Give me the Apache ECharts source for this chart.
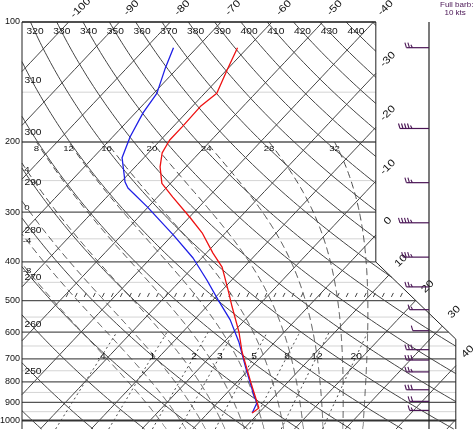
<!DOCTYPE html>
<html>
<head>
<meta charset="utf-8">
<script src="https://cdn.jsdelivr.net/npm/echarts@6/dist/echarts.min.js"></script>
<style>
html, body { margin: 0; padding: 0; background: #fff; }
#chart { width: 474px; height: 430px; }
</style>
</head>
<body>
<div id="chart"></div>
<script>
// ---- sounding ----
var tempPres = [116, 132, 151, 163, 183, 198, 213, 231, 254, 275, 309, 338, 380, 412, 470, 519, 600, 673, 801, 898, 930, 957];
var tempC    = [-62.0, -59.9, -57.6, -58.4, -58.2, -58.2, -57.3, -55.1, -51.7, -47.0, -39.9, -34.6, -28.7, -24.3, -18.9, -14.9, -8.9, -4.6, 2.7, 7.6, 9.1, 8.7];
var dewPres  = [116, 130, 151, 169, 194, 219, 252, 261, 291, 342, 391, 444, 498, 559, 635, 738, 863, 904, 957];
var dewC     = [-74.6, -72.5, -69.4, -68.5, -66.6, -64.3, -59.2, -57.5, -50.2, -39.9, -31.7, -24.9, -19.0, -12.9, -7.1, -0.9, 5.7, 7.8, 8.7];

// wind (kts, deg)
var windPres = [116, 185, 253, 319, 389, 462, 527, 595, 664, 705, 755, 837, 895, 943];
var windSpd  = [25, 45, 25, 45, 35, 25, 15, 10, 30, 30, 25, 30, 20, 15];
var windDir  = [270, 270, 270, 270, 270, 270, 270, 270, 270, 270, 270, 270, 270, 270];

// ---- background ----
var isobarMajor = [100, 200, 300, 400, 500, 600, 700, 800, 900, 1000];
var isobarMinor = [150, 250, 350, 450, 550, 650, 750, 850, 950];
var isotherms = [-100, -90, -80, -70, -60, -50, -40, -30, -20, -10, 0, 10, 20, 30, 40, 50];
var isothermLabels = [-100, -90, -80, -70, -60, -50, -40, -30, -20, -10, 0, 10, 20, 30, 40];
var dryTheta = [240, 250, 260, 270, 280, 290, 300, 310, 320, 330, 340, 350, 360, 370, 380, 390, 400, 410, 420, 430, 440, 450];
var dryTopLabels = [320, 330, 340, 350, 360, 370, 380, 390, 400, 410, 420, 430, 440];
var dryLeftLabels = [250, 260, 270, 280, 290, 300, 310];
var moistThw = [-8, -4, 0, 4, 8, 12, 16, 20, 24, 28, 32];
var mixRatio = [0.4, 1, 2, 3, 5, 8, 12, 20];
var mixLabels = ['.4', '1', '2', '3', '5', '8', '12', '20'];

var P_BOT = 1050, P_TOP = 100;
var XL = -19, XR = 27.1, XMID = 18.6, YLO = 9.0, YHI = 17.53;

function sy(p) { return 132.182 - 44.061 * Math.log10(p); }
function yp(y) { return Math.pow(10, (132.182 - y) / 44.061); }
function sx(t, p) { return 0.54 * t + 0.90692 * sy(p); }
function xRightAt(y) {
    if (y <= YLO) return XR;
    if (y >= YHI) return XMID;
    return XR - (y - YLO) * (XR - XMID) / (YHI - YLO);
}
function isIn(x, y) {
    return x >= XL - 1e-9 && x <= xRightAt(y) + 1e-9 && y >= sy(P_BOT) - 1e-9 && y <= sy(P_TOP) + 1e-9;
}
function logSteps(p0, p1, n) {
    var out = [];
    for (var i = 0; i <= n; i++) out.push(p0 * Math.pow(p1 / p0, i / n));
    return out;
}
// clip a curve (skew units) to the diagram outline, returns segments in [x, p]
function clip(pts) {
    var segs = [], cur = null;
    for (var i = 0; i < pts.length; i++) {
        var a = pts[i], ina = isIn(a[0], a[1]);
        if (i > 0) {
            var b = pts[i - 1], inb = isIn(b[0], b[1]);
            if (ina !== inb) {
                var lo = 0, hi = 1;
                for (var k = 0; k < 30; k++) {
                    var m = (lo + hi) / 2;
                    if (isIn(b[0] + (a[0] - b[0]) * m, b[1] + (a[1] - b[1]) * m) === inb) lo = m; else hi = m;
                }
                var c = [b[0] + (a[0] - b[0]) * lo, b[1] + (a[1] - b[1]) * lo];
                if (inb) { cur.push(c); segs.push(cur); cur = null; }
                else cur = [c];
            }
        }
        if (ina) { if (!cur) cur = []; cur.push(a); }
    }
    if (cur && cur.length > 1) segs.push(cur);
    return segs.map(function (s) { return s.map(function (q) { return [q[0], yp(q[1])]; }); });
}
function curveOf(fn, p0, p1, n) {
    return logSteps(p0, p1, n).map(function (p) { return [sx(fn(p), p), sy(p)]; });
}
function esat(tc) { return 6.112 * Math.exp(17.67 * tc / (tc + 243.5)); }
function dewFromE(e) { var l = Math.log(e / 6.112); return 243.5 * l / (17.67 - l); }
function moistRate(T, p) {
    var es = esat(T - 273.15), rs = 0.622 * es / (p - es);
    return (287.04 * T + 2.501e6 * rs) / (1005.7 + 2.501e6 * 2.501e6 * rs * 0.622 / (287.04 * T * T)) / p;
}
function moistProfile(thw, pEnd) {
    var out = [[1000, thw]], T = thw + 273.15, p = 1000, h = (pEnd - 1000) / 400;
    for (var i = 0; i < 400; i++) {
        var k1 = moistRate(T, p), k2 = moistRate(T + h * k1 / 2, p + h / 2);
        var k3 = moistRate(T + h * k2 / 2, p + h / 2), k4 = moistRate(T + h * k3, p + h);
        T += h * (k1 + 2 * k2 + 2 * k3 + k4) / 6; p += h;
        out.push([p, T - 273.15]);
    }
    return out;
}

var lines = [], labels = [];
var GRID_C = '#444';
var FONT = 'Liberation Sans, Arial, sans-serif';

isobarMinor.forEach(function (p) {
    lines.push({ pts: clip([[XL, sy(p)], [XR, sy(p)]]), color: '#d4d4d4', width: 1 });
});
isobarMajor.forEach(function (p) {
    lines.push({ pts: clip([[XL, sy(p)], [XR, sy(p)]]), color: p === 1000 ? '#333' : '#555', width: p === 1000 ? 2 : 1.3 });
    labels.push({ x: XL, p: p, dx: -2, dy: 0, text: String(p), align: 'right', size: 9 });
});

isotherms.forEach(function (t) {
    var segs = clip(curveOf(function () { return t; }, P_BOT, P_TOP, 60));
    segs.forEach(function (s) { lines.push({ pts: [s], color: GRID_C, width: 1 }); });
    if (isothermLabels.indexOf(t) >= 0 && segs.length) {
        var last = segs[segs.length - 1], end = last[last.length - 1];
        labels.push({ x: end[0], p: end[1], dx: 12, dy: -14, text: String(t), rot: Math.PI / 4, size: 10, sc: 1.2 });
    }
});

function dryT(theta) { return function (p) { return theta * Math.pow(p / 1000, 0.286) - 273.15; }; }
dryTheta.forEach(function (th) {
    clip(curveOf(dryT(th), P_BOT, P_TOP, 120)).forEach(function (s) { lines.push({ pts: [s], color: GRID_C, width: 1 }); });
});
dryTopLabels.forEach(function (th) {
    labels.push({ x: sx(dryT(th)(106), 106), p: 106, dx: 0, dy: 0, text: String(th), size: 8.5, sc: 1.2 });
});
var xLeftLab = XL + 1.17;
dryLeftLabels.forEach(function (th) {
    var lo = 100, hi = 1050, f = dryT(th);
    for (var k = 0; k < 40; k++) {
        var m = Math.sqrt(lo * hi);
        if (sx(f(m), m) > xLeftLab) hi = m; else lo = m;
    }
    labels.push({ x: xLeftLab, p: lo, dx: 0, dy: -2, text: String(th), size: 8.5, sc: 1.2 });
});

moistThw.forEach(function (thw) {
    var up = moistProfile(thw, 200), down = moistProfile(thw, P_BOT).reverse();
    var prof = down.concat(up.slice(1));
    var pts = prof.map(function (d) { return [sx(d[1], d[0]), sy(d[0])]; });
    var segs = clip(pts);
    segs.forEach(function (s) { lines.push({ pts: [s], color: GRID_C, width: 1, dash: [7, 4] }); });
    var last = segs[segs.length - 1], end = last[last.length - 1];
    if (end[1] > 205) {
        labels.push({ x: end[0], p: end[1], dx: 5, dy: 7, text: String(thw), size: 8, sc: 1.2 });
    } else {
        labels.push({ x: end[0], p: end[1], dx: 0, dy: 7, text: String(thw), size: 8, sc: 1.2 });
    }
});

mixRatio.forEach(function (w, i) {
    var f = function (p) { return dewFromE(w * p / (622 + w)); };
    clip(curveOf(f, P_BOT, 600, 40)).forEach(function (s) { lines.push({ pts: [s], color: GRID_C, width: 1, dash: [2, 3] }); });
    labels.push({ x: sx(f(690), 690), p: 690, dx: 0, dy: 0, text: mixLabels[i], size: 8.5, sc: 1.2 });
});

// short tick row above 500 hPa
var tickP = 484, ticks = [];
for (var tx = -14.2; tx < xRightAt(sy(tickP)) - 0.5; tx += 0.96) ticks.push(tx);

// outline
lines.push({ pts: [[[XL, P_BOT], [XL, P_TOP], [XMID, P_TOP], [XMID, yp(YHI)], [XR, yp(YLO)], [XR, P_BOT]]], color: '#222', width: 1 });

var tempData = tempPres.map(function (p, i) { return [sx(tempC[i], p), p]; });
var dewData = dewPres.map(function (p, i) { return [sx(dewC[i], p), p]; });

var XSTAFF = XL + 407 / 9.41;
var BARB_C = '#4a1555';

var myChart = echarts.init(document.getElementById('chart'));
var option = {
    animation: false,
    grid: { left: 22, top: 22, width: 433.8, height: 407 },
    xAxis: { type: 'value', min: XL, max: XR, show: false },
    yAxis: { type: 'log', logBase: 10, min: P_TOP, max: P_BOT, inverse: true, show: false },
    graphic: [
        { type: 'text', left: 440, top: 1, style: { text: 'Full barb:\n  10 kts', fill: BARB_C, font: '8px ' + FONT, lineHeight: 8 } }
    ],
    series: [
        {
            type: 'custom',
            silent: true,
            z: 1,
            data: lines.map(function (l, i) { return [l.pts[0][0][0], l.pts[0][0][1], i]; }),
            encode: { x: 0, y: 1 },
            renderItem: function (params, api) {
                var l = lines[params.dataIndex];
                return {
                    type: 'group',
                    children: l.pts.map(function (seg) {
                        return {
                            type: 'polyline',
                            shape: { points: seg.map(function (d) { return api.coord(d); }) },
                            style: { stroke: l.color, lineWidth: l.width, fill: null, lineDash: l.dash || null }
                        };
                    })
                };
            }
        },
        {
            type: 'custom',
            silent: true,
            z: 1,
            data: ticks.map(function (x) { return [x, tickP]; }),
            encode: { x: 0, y: 1 },
            renderItem: function (params, api) {
                var c = api.coord([api.value(0), api.value(1)]);
                return {
                    type: 'line',
                    shape: { x1: c[0] - 1, y1: c[1] + 2, x2: c[0] + 1, y2: c[1] - 2 },
                    style: { stroke: GRID_C, lineWidth: 1 }
                };
            }
        },
        {
            name: 'Dew point',
            type: 'line',
            data: dewData,
            symbol: 'none',
            z: 3,
            lineStyle: { color: '#1f1fe6', width: 1.3 }
        },
        {
            name: 'Temperature',
            type: 'line',
            data: tempData,
            symbol: 'none',
            z: 4,
            lineStyle: { color: '#ee1111', width: 1.3 }
        },
        {
            type: 'custom',
            silent: true,
            z: 5,
            data: labels.map(function (l, i) { return [l.x, l.p, i]; }),
            encode: { x: 0, y: 1 },
            renderItem: function (params, api) {
                var l = labels[params.dataIndex];
                var c = api.coord([l.x, l.p]);
                return {
                    type: 'text',
                    x: c[0] + l.dx,
                    y: c[1] + l.dy,
                    rotation: l.rot || 0,
                    scaleX: l.sc || 1,
                    style: {
                        text: l.text,
                        fill: '#111',
                        font: l.size + 'px ' + FONT,
                        align: l.align || 'center',
                        verticalAlign: 'middle'
                    }
                };
            }
        },
        {
            // wind barbs
            type: 'custom',
            silent: true,
            z: 6,
            data: windPres.map(function (p, i) { return [XSTAFF, p, windSpd[i], windDir[i]]; }),
            encode: { x: 0, y: 1 },
            renderItem: function (params, api) {
                var c = api.coord([api.value(0), api.value(1)]);
                var spd = api.value(2), dir = api.value(3) * Math.PI / 180;
                var ux = Math.sin(dir), uy = -Math.cos(dir);
                var nFull = Math.floor(spd / 10), half = (spd % 10) >= 5 ? 1 : 0;
                var n = nFull + half;
                var len = 13 + 3.2 * n;
                var tip = [c[0] + ux * len, c[1] + uy * len];
                var kids = [{
                    type: 'line',
                    shape: { x1: c[0], y1: c[1], x2: tip[0], y2: tip[1] },
                    style: { stroke: BARB_C, lineWidth: 1.2 }
                }];
                var nx = uy, ny = -ux;
                if (ny > 0) { nx = -nx; ny = -ny; }
                for (var k = 0; k < n; k++) {
                    var d = len - k * 3;
                    var bx = c[0] + ux * d, by = c[1] + uy * d;
                    var fl = k < nFull ? 5 : 3;
                    kids.push({
                        type: 'line',
                        shape: { x1: bx, y1: by, x2: bx + nx * fl + ux * 1.5, y2: by + ny * fl + uy * 1.5 },
                        style: { stroke: BARB_C, lineWidth: 1.1 }
                    });
                }
                return { type: 'group', children: kids };
            }
        },
        {
            // barb staff
            type: 'line',
            data: [[XSTAFF, P_TOP], [XSTAFF, P_BOT]],
            symbol: 'none',
            silent: true,
            z: 5,
            lineStyle: { color: '#222', width: 1.2 }
        }
    ]
};
myChart.setOption(option);
</script>
</body>
</html>
